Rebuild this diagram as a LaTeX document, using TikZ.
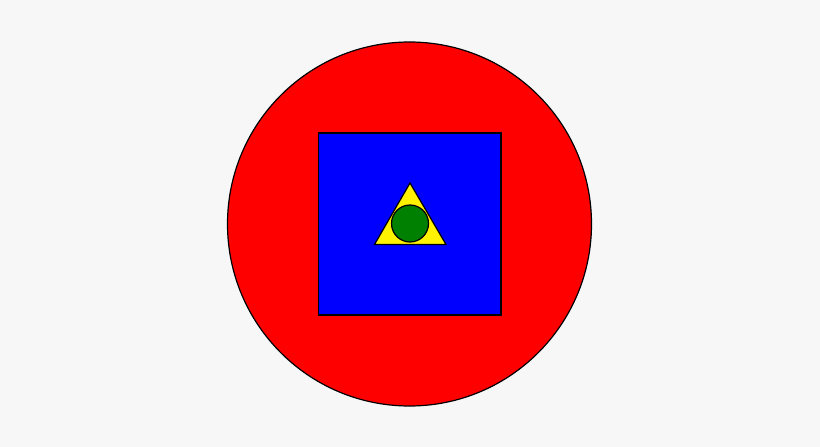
\documentclass[tikz,border=0pt]{standalone}
\definecolor{bg}{HTML}{F7F7F7}
\definecolor{dgreen}{HTML}{008000}
\tikzset{shape outline/.style={draw=black, line width=1.2pt, line join=miter}}
\begin{document}
\begin{tikzpicture}[x=1pt,y=-1pt]
\fill[bg] (0,0) rectangle (820,447);
\useasboundingbox (0,0) rectangle (820,447);
\coordinate (c) at (409.5,224);
\filldraw[shape outline, fill=red] (c) circle[radius=182];
\filldraw[shape outline, fill=blue] (318.5,133) rectangle (501,315);
\filldraw[shape outline, fill=yellow] (410,183) -- (446,244.5) -- (374.5,244.5) -- cycle;
\filldraw[shape outline, fill=dgreen] (410,223.5) circle[radius=18.5];
\end{tikzpicture}
\end{document}
